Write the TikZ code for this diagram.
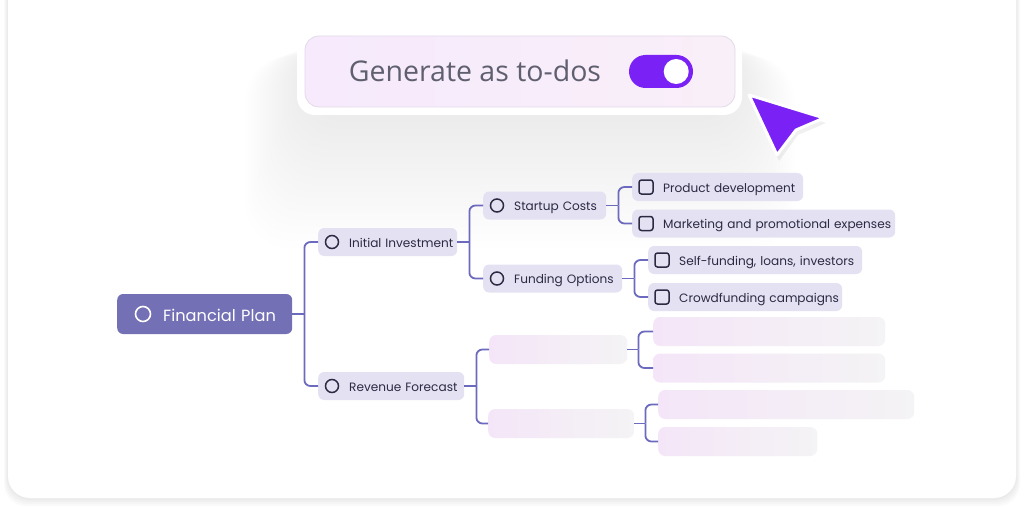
\documentclass[tikz,border=0pt]{standalone}
\usepackage{fontspec}
\setmainfont{Poppins}
\newfontfamily\uifont{Open Sans}
\usepackage{tikz}
\usetikzlibrary{positioning, calc}

\begin{document}
\begin{tikzpicture}[x=1pt, y=-1pt,
  link/.style={draw=linkblue, line width=1.8pt, rounded corners=6pt},
  topic/.style={fill=nodegray, rounded corners=6pt, minimum height=28pt, inner ysep=0pt,
    inner xsep=4pt, text height=11pt, text depth=1pt, anchor=west, align=left, text=ink,
    font=\fontsize{12.1}{14}\selectfont},
  blank/.style={rounded corners=7pt, minimum height=29pt, inner sep=0pt, anchor=west,
    left color=phpink, middle color=phmid, right color=phgray},
  ring/.style={draw=ink, line width=1.5pt},
  tickbox/.style={draw=ink, line width=1.5pt, rounded corners=2.5pt}]
\definecolor{linkblue}{RGB}{108,106,190}
\definecolor{rootfill}{RGB}{116,112,181}
\definecolor{nodegray}{RGB}{227,225,242}
\definecolor{ink}{RGB}{44,42,66}
\definecolor{phpink}{RGB}{244,230,248}
\definecolor{phmid}{RGB}{247,234,244}
\definecolor{phgray}{RGB}{244,243,245}
\definecolor{panelL}{RGB}{246,234,252}
\definecolor{panelR}{RGB}{249,239,248}
\definecolor{panelline}{RGB}{228,218,232}
\definecolor{gentext}{RGB}{95,95,112}
\definecolor{toggle}{RGB}{122,34,245}

\useasboundingbox (0,0) rectangle (1024,513);

% Card
\foreach \i in {1,...,4}
  \fill[black, opacity=0.02, rounded corners=22pt] (8-\i,-30) rectangle (1016+\i,498+2*\i);
\fill[white, rounded corners=22pt] (8,-30) rectangle (1016,498);

% Panel shadow
\foreach \i in {1,...,20}
  \fill[black, opacity=0.0045, rounded corners=45pt] (305-3*\i,36+\i) rectangle (735+3*\i,108+7*\i);

% Panel
\fill[white, rounded corners=18pt] (297,27) rectangle (742,115);
\draw[panelline, line width=0.8pt, left color=panelL, right color=panelR, rounded corners=14pt]
  (305,36) rectangle (735,107);
\node[font=\uifont\fontsize{28.5}{32}\selectfont, text=gentext] (gen) at (475,71) {Generate as to-dos};
\node[fill=toggle, rounded corners=16.5pt, minimum width=64pt, minimum height=33pt, inner sep=0pt]
  (tg) at (661,71.5) {};
\fill[white] ([xshift=-17pt]tg.east) circle (12.5pt);

% Cursor
\fill[black, opacity=0.06, line join=round] (751,100) -- (826,123) -- (798,135) -- (779,161) -- cycle;
\filldraw[fill=toggle, draw=white, line width=3pt, line join=round]
  (749,95) -- (824,118) -- (796,130) -- (777,155) -- cycle;

% Root
\node[fill=rootfill, rounded corners=6pt, minimum height=40pt, inner sep=0pt, text width=175pt,
  text height=15pt, text depth=1pt, anchor=west, align=left, text=white,
  font=\fontsize{16.2}{18}\selectfont]
  (fp) at (117,314) {\hspace*{46pt}Financial Plan};
\draw[white, line width=1.6pt] ([xshift=26pt]fp.west) circle (7.5pt);

% Level 1
\node[topic, text width=131pt] (ii) at (318,242) {\hspace*{27pt}\mbox{Initial Investment}};
\node[topic, text width=138pt] (rf) at (318,386) {\hspace*{27pt}\mbox{Revenue Forecast}};

% Level 2
\node[topic, text width=115pt] (sc) at (483,205.5) {\hspace*{27pt}\mbox{Startup Costs}};
\node[topic, text width=131pt] (fo) at (483,278.5) {\hspace*{27pt}\mbox{Funding Options}};
\node[blank, minimum width=138pt] (pa) at (489,349.5) {};
\node[blank, minimum width=146pt] (pb) at (488,423.5) {};

% Level 3
\node[topic, text width=163pt] (pd) at (632,187) {\hspace*{27pt}\mbox{Product development}};
\node[topic, text width=255pt] (mk) at (632,223.5) {\hspace*{27pt}\mbox{Marketing and promotional expenses}};
\node[topic, text width=206pt] (sf) at (648,260) {\hspace*{27pt}\mbox{Self-funding, loans, investors}};
\node[topic, text width=186pt] (cf) at (648,297) {\hspace*{27pt}\mbox{Crowdfunding campaigns}};
\node[blank, minimum width=232pt] (pa1) at (653,331.5) {};
\node[blank, minimum width=232pt] (pa2) at (653,368) {};
\node[blank, minimum width=256pt] (pb1) at (658,404.5) {};
\node[blank, minimum width=159pt] (pb2) at (658,441.5) {};

% Icons
\foreach \n in {ii,rf,sc,fo}
  \draw[ring] ([xshift=14pt]\n.west) circle (6.5pt);
\foreach \n in {pd,mk,sf,cf}
  \draw[tickbox] ($(\n.west)+(7,-7)$) rectangle ($(\n.west)+(21,7)$);

% Links
\draw[link] (fp.east) -- ++(12,0) coordinate (j0);
\draw[link] (j0) |- (ii.west);
\draw[link] (j0) |- (rf.west);
\draw[link] (ii.east) -- ++(12,0) coordinate (j1);
\draw[link] (j1) |- (sc.west);
\draw[link] (j1) |- (fo.west);
\draw[link] (rf.east) -- ++(12,0) coordinate (j2);
\draw[link] (j2) |- (pa.west);
\draw[link] (j2) |- (pb.west);
\draw[link] (sc.east) -- ++(12,0) coordinate (j3);
\draw[link] (j3) |- (pd.west);
\draw[link] (j3) |- (mk.west);
\draw[link] (fo.east) -- ++(12,0) coordinate (j4);
\draw[link] (j4) |- (sf.west);
\draw[link] (j4) |- (cf.west);
\draw[link] (pa.east) -- ++(11,0) coordinate (j5);
\draw[link] (j5) |- (pa1.west);
\draw[link] (j5) |- (pa2.west);
\draw[link] (pb.east) -- ++(11,0) coordinate (j6);
\draw[link] (j6) |- (pb1.west);
\draw[link] (j6) |- (pb2.west);

\end{tikzpicture}
\end{document}
